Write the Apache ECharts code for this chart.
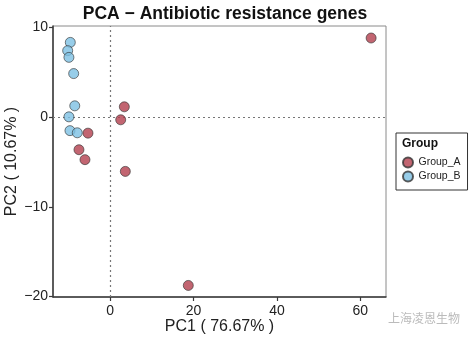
<!DOCTYPE html>
<html><head><meta charset="utf-8">
<script src="https://cdn.jsdelivr.net/npm/echarts@6/dist/echarts.min.js"></script>
<style>html,body{margin:0;padding:0;background:#fff}#c{width:474px;height:340px}</style>
</head><body><div id="c"></div>
<script>
const titleText = 'PCA − Antibiotic resistance genes';
const xName = 'PC1 ( 76.67% )';
const yName = 'PC2 ( 10.67% )';
const groupA = [[62.6,8.84],[3.39,1.16],[2.52,-0.29],[-5.33,-1.78],[-7.49,-3.63],[-6.05,-4.74],[3.63,-6.05],[18.74,-18.78]];
const groupB = [[-9.57,8.35],[-10.2,7.43],[-9.9,6.68],[-8.76,4.87],[-8.5,1.27],[-9.9,0.04],[-9.65,-1.5],[-7.9,-1.74]];
const xTicks = [0,20,40,60];
const yTicks = [-20,-10,0,10];
const fmt = v => (v < 0 ? '\u2212' + Math.abs(v) : String(v));

const chart = echarts.init(document.getElementById('c'), null, {renderer:'canvas'});
const axisCommon = {
  axisLine:{show:true,onZero:false,lineStyle:{color:'#3a3a3a',width:1.5}},
  axisTick:{show:true,length:4,lineStyle:{color:'#3a3a3a',width:1.2}},
  splitLine:{show:false},
  axisLabel:{color:'#222',fontSize:14,fontFamily:'Liberation Sans, Arial',formatter:fmt}
};
chart.setOption({
  animation:false,
  title:{text:titleText,left:220,textAlign:'center',top:0,textStyle:{fontSize:17.5,fontWeight:'bold',color:'#111',fontFamily:'Liberation Sans, Arial'}},
  grid:{left:53,right:88,top:26,bottom:43,show:true,borderColor:'#8a8a8a',borderWidth:1,outerBoundsMode:'none',containLabel:false},
  xAxis:{type:'value',min:-13.72,max:66.17,interval:20,
    name:xName,nameLocation:'middle',nameGap:22,nameMoveOverlap:false,
    nameTextStyle:{fontSize:16,color:'#222',fontFamily:'Liberation Sans, Arial'},
    ...axisCommon,
    axisLabel:{...axisCommon.axisLabel,customValues:xTicks,margin:7},
    axisTick:{...axisCommon.axisTick,customValues:xTicks}},
  yAxis:{type:'value',min:-20.07,max:10.18,
    name:yName,nameLocation:'middle',nameGap:33,nameMoveOverlap:false,
    nameTextStyle:{fontSize:16,color:'#222',fontFamily:'Liberation Sans, Arial'},
    ...axisCommon,
    axisLabel:{...axisCommon.axisLabel,customValues:yTicks,margin:5},
    axisTick:{...axisCommon.axisTick,customValues:yTicks}},
  legend:{orient:'vertical',left:396,top:133,
    padding:[23,7,7,6],itemGap:1,itemWidth:11,itemHeight:10,icon:'circle',
    borderColor:'#333',borderWidth:1,
    textStyle:{fontSize:10.5,lineHeight:13,color:'#222',fontFamily:'Liberation Sans, Arial'},
    data:['Group_A','Group_B']},
  graphic:[
    {type:'text',left:402,top:138,style:{text:'Group',font:'bold 12px Liberation Sans, Arial',fill:'#111'}},
    {type:'text',left:388,top:312,style:{text:'上海凌恩生物',font:'12px Noto Sans CJK SC',fill:'#bbb'}}
  ],
  series:[
    {name:'Group_A',type:'scatter',data:groupA,symbolSize:10,z:5,
     itemStyle:{color:'#b33e4e',borderColor:'#333',borderWidth:0.8},
     markLine:{silent:true,symbol:'none',label:{show:false},
       lineStyle:{type:[2,3],color:'#777',width:1.2},
       data:[{xAxis:0},{yAxis:0}]}},
    {name:'Group_B',type:'scatter',data:groupB,symbolSize:10,z:5,
     itemStyle:{color:'#7dc0e3',borderColor:'#333',borderWidth:0.8}}
  ]
});
</script></body></html>
